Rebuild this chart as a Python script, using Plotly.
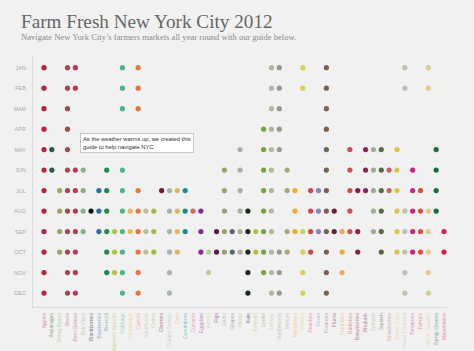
import plotly.graph_objects as go

months = ["JAN", "FEB", "MAR", "APR", "MAY", "JUN", "JUL", "AUG", "SEP", "OCT", "NOV", "DEC"]

produce = ["Apples", "Asparagus", "String Beans", "Beets", "Beet Greens", "Bok Choy",
           "Blackberries", "Blueberries", "Broccoli", "Brussels Sprouts", "Cabbage", "Cantaloupe",
           "Carrots", "Cauliflower", "Celery", "Cherries", "Collard Greens", "Corn",
           "Cucumbers", "Currants", "Eggplant", "Fennel", "Figs", "Garlic",
           "Grapes", "Herbs", "Kale", "Kohlrabi", "Leeks", "Lettuce",
           "Mushrooms", "Melons", "Nectarines", "Onions", "Peaches", "Pears",
           "Potatoes", "Plums", "Pumpkins", "Radishes", "Raspberries", "Rhubarb",
           "Spinach", "Squash", "Strawberries", "Sweet Corn", "Sweet Potatoes", "Tomatoes",
           "Turnips", "Winter Squash", "Turnip Greens", "Watermelon"]

colors = ["#b8213f", "#1f5c40", "#a3a262", "#9a4c50", "#b8385a", "#86b08c",
          "#111111", "#2b6ca3", "#1f8a4c", "#b5c040", "#4db588", "#f3b562",
          "#e57440", "#c4b99a", "#a3b94a", "#6b1a2e", "#a5b7a8", "#dcb860",
          "#1a8a8a", "#e06070", "#8a2a8a", "#b5cfa0", "#5a1a4a", "#9aa070",
          "#5a6a6a", "#a8b0a0", "#1a2a1a", "#b5c040", "#7aa040", "#b0b8a0",
          "#999890", "#a8a878", "#f0a830", "#d8d050", "#d84050", "#9080b8",
          "#7a6050", "#6a2030", "#f0a850", "#d05048", "#8a2040", "#902060",
          "#a0ae98", "#5a6a40", "#d06060", "#d8c840", "#c0c0b0", "#d0208a",
          "#e05038", "#e0c890", "#1a6a40", "#d82050"]

# produce index available in each month
jan = [0, 3, 4, 10, 12, 29, 30, 33, 36, 46, 49]
feb = [0, 3, 4, 10, 12, 29, 30, 33, 36, 46, 49]
mar = [0, 3, 10, 12, 29, 30, 36]
apr = [0, 3, 28, 29, 30, 36]
may = [0, 1, 3, 5, 25, 28, 29, 30, 36, 39, 41, 42, 43, 45, 50]
jun = [0, 1, 3, 4, 5, 8, 10, 23, 25, 28, 29, 31, 36, 39, 41, 42, 43, 44, 45, 47, 50]
jul = [0, 2, 3, 4, 5, 7, 8, 10, 12, 15, 16, 17, 18, 23, 25, 28, 29, 31, 32, 34, 35, 36,
       39, 40, 41, 42, 43, 44, 45, 47, 48, 50]
aug = [0, 2, 3, 4, 5, 6, 7, 8, 10, 11, 12, 13, 14, 16, 17, 18, 19, 20, 23, 25, 26, 28, 29,
       32, 34, 35, 36, 37, 39, 42, 43, 45, 46, 47, 48, 49, 50]
sep = [0, 2, 3, 4, 5, 7, 8, 9, 10, 11, 12, 13, 14, 16, 17, 18, 20, 22, 23, 24, 25, 26, 27,
       28, 29, 31, 32, 33, 34, 35, 36, 37, 38, 39, 40, 42, 43, 45, 46, 47, 48, 49, 51]
oct_ = [0, 2, 3, 4, 8, 9, 10, 12, 13, 14, 16, 17, 20, 21, 22, 23, 24, 25, 26, 27, 28, 29,
        30, 31, 33, 34, 36, 38, 40, 43, 45, 46, 47, 48, 49, 51]
nov = [0, 3, 4, 8, 9, 10, 12, 16, 21, 26, 28, 29, 30, 33, 36, 38, 46, 49]
dec = [0, 3, 4, 10, 12, 16, 26, 29, 30, 33, 36, 46, 49]

availability = [jan, feb, mar, apr, may, jun, jul, aug, sep, oct_, nov, dec]

xs, ys, cs, hov = [], [], [], []
for m, items in enumerate(availability):
    for i in items:
        xs.append(i)
        ys.append(m)
        cs.append(colors[i])
        hov.append(f"{produce[i]} - {months[m]}")


def fade(hexc, a=0.5, bg=(240, 240, 240)):
    h = hexc.lstrip("#")
    r, g, b = int(h[0:2], 16), int(h[2:4], 16), int(h[4:6], 16)
    r = round(r * a + bg[0] * (1 - a))
    g = round(g * a + bg[1] * (1 - a))
    b = round(b * a + bg[2] * (1 - a))
    return f"rgb({r},{g},{b})"


ticktext = [f"<span style='color:{fade(c)}'>{p}</span>" for p, c in zip(produce, colors)]

PW, PH, ML, MT = 414, 250, 33, 57

fig = go.Figure()
fig.add_trace(go.Scatter(
    x=xs, y=ys, mode="markers",
    marker=dict(size=5.2, color=cs, line=dict(width=0)),
    text=hov, hoverinfo="text", showlegend=False,
))

fig.update_layout(
    width=474, height=351,
    margin=dict(l=ML, r=27, t=MT, b=44, autoexpand=False),
    paper_bgcolor="#f1f1f1", plot_bgcolor="#f1f1f1",
    xaxis=dict(
        range=[-1.4, 51.38], showgrid=False, zeroline=False, automargin=False,
        tickmode="array", tickvals=list(range(len(produce))), ticktext=ticktext,
        tickangle=-90, tickfont=dict(size=5.1, family="Liberation Sans"),
        ticks="outside", ticklen=3, tickcolor="rgba(0,0,0,0)",
        showline=True, linecolor="#d9d9d9", linewidth=1,
    ),
    yaxis=dict(
        range=[11.68, -0.52], showgrid=False, zeroline=False, automargin=False,
        tickmode="array", tickvals=list(range(12)), ticktext=months,
        tickfont=dict(size=5.5, color="#a8a8a8", family="Liberation Sans"),
        ticks="outside", ticklen=5, tickcolor="rgba(0,0,0,0)",
        showline=True, linecolor="#d9d9d9", linewidth=1,
    ),
    annotations=[
        dict(text="Farm Fresh New York City 2012", xref="paper", yref="paper",
             x=(18.5 - ML) / PW, y=1 + (MT - 21) / PH, xanchor="left", yanchor="middle",
             showarrow=False,
             font=dict(family="Liberation Serif", size=19.2, color="#666666")),
        dict(text="Navigate New York City\u2019s farmers markets all year round with our guide below.",
             xref="paper", yref="paper", x=(18.5 - ML) / PW, y=1 + (MT - 37) / PH,
             xanchor="left", yanchor="middle", showarrow=False,
             font=dict(family="Liberation Serif", size=8.6, color="#8a8a8a")),
        dict(text="As the weather warms up, we created this<br>guide to help navigate NYC",
             x=4.6, y=3.19, xref="x", yref="y", xanchor="left", yanchor="top",
             showarrow=False, align="left",
             font=dict(family="Liberation Sans", size=5.8, color="#333333"),
             bgcolor="#ffffff", bordercolor="#c8c8c8", borderwidth=1, borderpad=2),
    ],
)

fig.write_html("out.html")
